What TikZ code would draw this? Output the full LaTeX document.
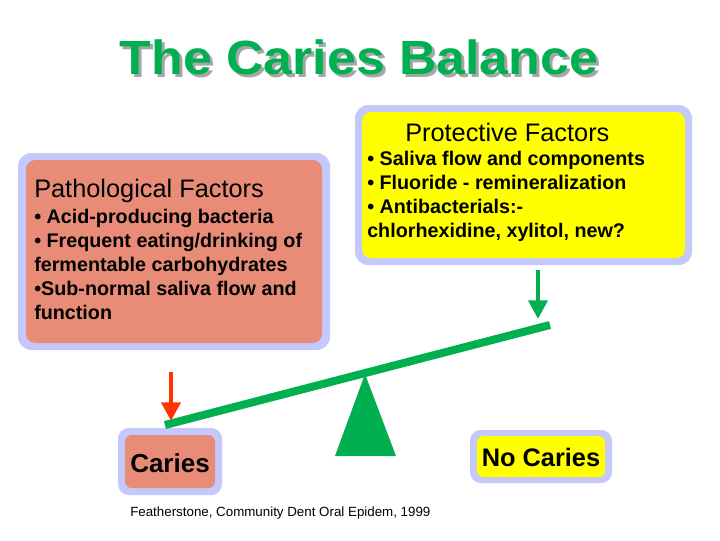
\documentclass[tikz,border=0pt]{standalone}
\usepackage{fontspec}
\setmainfont{Liberation Sans}
\usetikzlibrary{arrows.meta}
\definecolor{lav}{RGB}{196,200,250}
\definecolor{salmon}{RGB}{232,140,120}
\definecolor{yel}{RGB}{255,255,0}
\definecolor{grn}{RGB}{0,176,80}
\definecolor{redar}{RGB}{255,50,0}
\tikzset{
 body/.style={font=\fontsize{14.8}{18}\selectfont\bfseries,align=left,anchor=north west,inner sep=0pt},
 head/.style={font=\fontsize{19}{22}\selectfont,anchor=north west,inner sep=0pt},
 ttl/.style={font=\fontsize{36}{40}\selectfont\bfseries,xscale=1.08},
}
\begin{document}
\begin{tikzpicture}[x=0.75pt,y=-0.75pt]
\useasboundingbox (0,0) rectangle (720,540);
% title
\node[ttl,text=gray!70] (tsh) at (362,60) {The Caries Balance};
\node[ttl,text=grn] (title) at (359,57) {The Caries Balance};
% pathological
\fill[lav,rounded corners=10pt] (18,153) rectangle (330,350);
\fill[salmon,rounded corners=7pt] (26,160) rectangle (322,343);
\node[head] (ph) at (34,179) {Pathological Factors};
\node[body] (pb) at (34,209) {• Acid-producing bacteria\\• Frequent eating/drinking of\\fermentable carbohydrates\\•Sub-normal saliva flow and\\function};
% protective
\fill[lav,rounded corners=10pt] (355,105) rectangle (692,265);
\fill[yel,rounded corners=7pt] (362,112) rectangle (685,258);
\node[head] (rh) at (405,123) {Protective Factors};
\node[body] (rb) at (367,151) {• Saliva flow and components\\• Fluoride - remineralization\\• Antibacterials:-\\chlorhexidine, xylitol, new?};
% caries
\fill[lav,rounded corners=8pt] (118,428) rectangle (222,495);
\fill[salmon,rounded corners=5pt] (125,435) rectangle (215,488);
\node (car) at (170,463) {\fontsize{19.5}{22}\selectfont\bfseries Caries};
\fill[lav,rounded corners=8pt] (470,430) rectangle (612,483);
\fill[yel,rounded corners=5pt] (477,436) rectangle (605,477);
\node (nc) at (541,457) {\fontsize{19}{22}\selectfont\bfseries No Caries};
% beam
\coordinate (bl) at (165,425);
\coordinate (br) at (550,325);
\draw[grn,line width=6pt] (bl) -- (br);
\fill[grn] (365,374) -- (335,456) -- (396,456) -- cycle;
\coordinate (ra1) at (171,372);
\coordinate (ra2) at (171,421);
\draw[redar,line width=3.5pt,-{Triangle[width=14pt,length=14pt]}] (ra1) -- (ra2);
\coordinate (ga1) at (538,270);
\coordinate (ga2) at (538,319);
\draw[grn,line width=3.5pt,-{Triangle[width=14pt,length=14pt]}] (ga1) -- (ga2);
\node[anchor=west,inner sep=0pt] (cite) at (130,513) {\fontsize{10}{12}\selectfont Featherstone, Community Dent Oral Epidem, 1999};
\end{tikzpicture}
\end{document}
